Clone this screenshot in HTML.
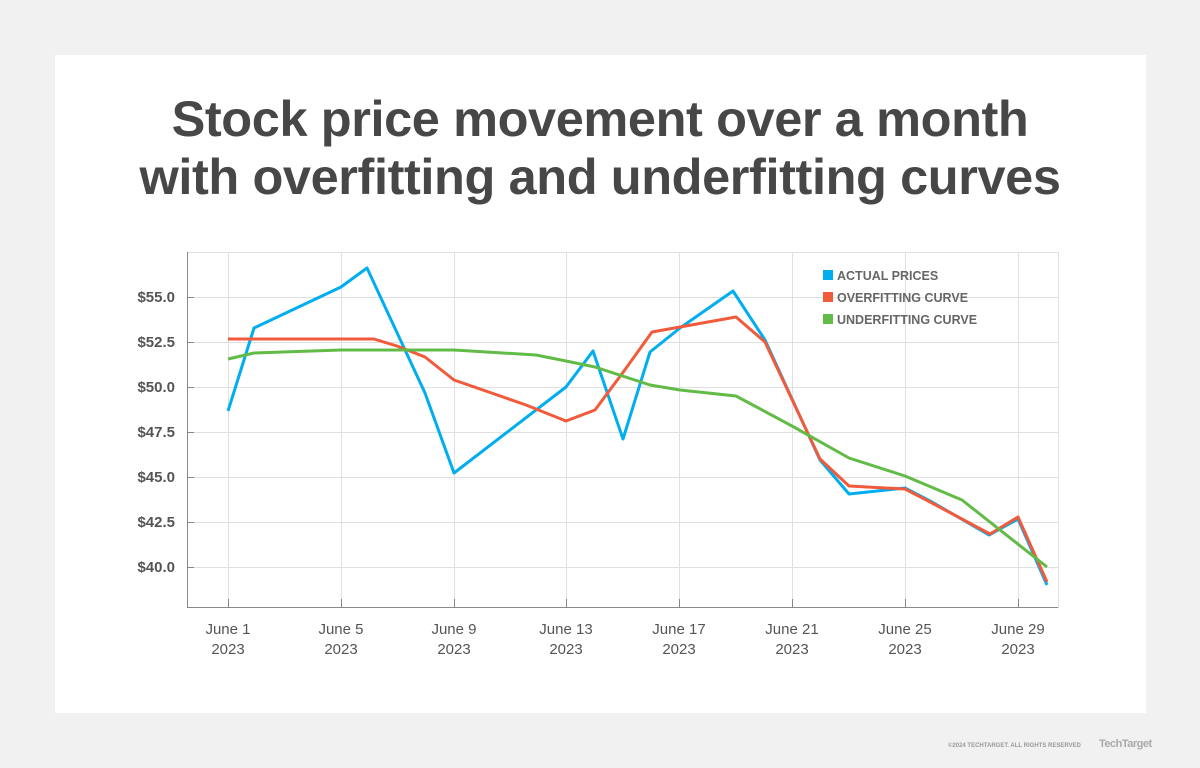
<!DOCTYPE html>
<html><head><style>
body{margin:0;width:1200px;height:768px;background:#f1f1f1;font-family:"Liberation Sans",sans-serif;overflow:hidden;position:relative}
.card{position:absolute;left:55px;top:55px;width:1091px;height:658px;background:#fff}
h1{position:absolute;left:0;width:1200px;top:90px;margin:0;text-align:center;font-size:50.5px;line-height:58px;font-weight:bold;color:#474747;letter-spacing:-0.4px}
.foot{position:absolute;left:948px;top:743px;font-size:6px;font-weight:bold;color:#999;white-space:nowrap}
.logo{position:absolute;left:1099px;top:738px;font-size:11px;font-weight:bold;color:#aaa;letter-spacing:-0.5px}
</style></head><body>
<div class="card"></div>
<h1>Stock price movement over a month<br>with overfitting and underfitting curves</h1>
<svg width="1200" height="768" style="position:absolute;left:0;top:0">
<g stroke="#e0e0e0" stroke-width="1">
<line x1="187" y1="252.5" x2="1058" y2="252.5"/><line x1="187" y1="297.5" x2="1058" y2="297.5"/><line x1="187" y1="342.5" x2="1058" y2="342.5"/><line x1="187" y1="387.5" x2="1058" y2="387.5"/><line x1="187" y1="432.5" x2="1058" y2="432.5"/><line x1="187" y1="477.5" x2="1058" y2="477.5"/><line x1="187" y1="522.5" x2="1058" y2="522.5"/><line x1="187" y1="567.5" x2="1058" y2="567.5"/>
<line x1="228.5" y1="252" x2="228.5" y2="608"/><line x1="341.5" y1="252" x2="341.5" y2="608"/><line x1="454.5" y1="252" x2="454.5" y2="608"/><line x1="566.5" y1="252" x2="566.5" y2="608"/><line x1="679.5" y1="252" x2="679.5" y2="608"/><line x1="792.5" y1="252" x2="792.5" y2="608"/><line x1="905.5" y1="252" x2="905.5" y2="608"/><line x1="1018.5" y1="252" x2="1018.5" y2="608"/><line x1="1058.5" y1="252" x2="1058.5" y2="608"/>
</g>
<g stroke="#888" stroke-width="1">
<line x1="187.5" y1="252" x2="187.5" y2="608"/><line x1="187" y1="607.5" x2="1058" y2="607.5"/>
<line x1="187" y1="297.5" x2="194" y2="297.5"/><line x1="187" y1="342.5" x2="194" y2="342.5"/><line x1="187" y1="387.5" x2="194" y2="387.5"/><line x1="187" y1="432.5" x2="194" y2="432.5"/><line x1="187" y1="477.5" x2="194" y2="477.5"/><line x1="187" y1="522.5" x2="194" y2="522.5"/><line x1="187" y1="567.5" x2="194" y2="567.5"/>
<line x1="228.5" y1="599" x2="228.5" y2="608"/><line x1="341.5" y1="599" x2="341.5" y2="608"/><line x1="454.5" y1="599" x2="454.5" y2="608"/><line x1="566.5" y1="599" x2="566.5" y2="608"/><line x1="679.5" y1="599" x2="679.5" y2="608"/><line x1="792.5" y1="599" x2="792.5" y2="608"/><line x1="905.5" y1="599" x2="905.5" y2="608"/><line x1="1018.5" y1="599" x2="1018.5" y2="608"/>
</g>
<g font-size="15" fill="#555" font-weight="bold" text-anchor="end">
<text x="175" y="302">$55.0</text><text x="175" y="347">$52.5</text><text x="175" y="392">$50.0</text><text x="175" y="437">$47.5</text><text x="175" y="482">$45.0</text><text x="175" y="527">$42.5</text><text x="175" y="572">$40.0</text>
</g>
<g font-size="15" fill="#555" text-anchor="middle">
<text x="228" y="634">June 1</text><text x="228" y="654">2023</text>
<text x="341" y="634">June 5</text><text x="341" y="654">2023</text>
<text x="454" y="634">June 9</text><text x="454" y="654">2023</text>
<text x="566" y="634">June 13</text><text x="566" y="654">2023</text>
<text x="679" y="634">June 17</text><text x="679" y="654">2023</text>
<text x="792" y="634">June 21</text><text x="792" y="654">2023</text>
<text x="905" y="634">June 25</text><text x="905" y="654">2023</text>
<text x="1018" y="634">June 29</text><text x="1018" y="654">2023</text>
</g>
<g fill="none" stroke-width="3" stroke-linejoin="round">
<polyline stroke="#00aeef" points="228,411 254,328 341,287 367,268 425,393 454,473 566,387 593,351 623,439 650,352 680,328 733,291 765,340 820,460 849,494 905,488 932,502 989,535 1018,519 1047,585"/>
<polyline stroke="#f15a3b" points="228,339 374,339 397,346 425,357 454,380 526,405 566,421 595,410 624,371 652,332 680,327 736,317 765,342 820,459 849,486 905,489 932,503 990,534 1018,517 1047,582"/>
<polyline stroke="#62bb46" points="228,359 254,353 341,350 454,350 536,355 566,361 595,367 650,385 680,390 736,396 792,426 849,458 905,476 962,500 1047,567"/>
</g>
<rect x="823" y="270" width="10" height="10" fill="#00aeef"/>
<rect x="823" y="292" width="10" height="10" fill="#f15a3b"/>
<rect x="823" y="314" width="10" height="10" fill="#62bb46"/>
<g font-size="12.5" fill="#666" font-weight="bold">
<text x="837" y="280">ACTUAL PRICES</text><text x="837" y="302">OVERFITTING CURVE</text><text x="837" y="324">UNDERFITTING CURVE</text>
</g>
</svg>
<div class="foot">©2024 TECHTARGET. ALL RIGHTS RESERVED</div>
<div class="logo">TechTarget</div>
</body></html>
